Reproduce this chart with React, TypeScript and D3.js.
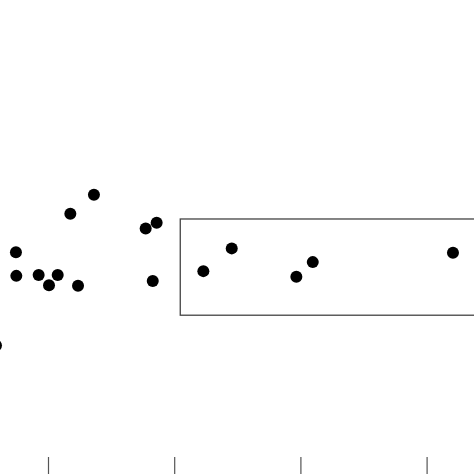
import React from "react";
import * as d3 from "d3";

const xValues = [1.36, 1.173, 1.77, 1.857, 0.742, 0.745, 0.922, 1.073, 1.004, 1.234, 1.826, 0.584, 2.227, 2.452, 2.964, 3.094, 4.205];
const yValues = [5.89, 5.49, 5.18, 5.3, 4.68, 4.18, 4.2, 4.2, 3.98, 3.97, 4.07, 2.71, 4.28, 4.76, 4.16, 4.47, 4.67];
const xTicks = [1, 2, 3, 4];
const boxX = [2.044, 4.6];
const boxY = [3.35, 5.38];

const W = 474;
const H = 474;

export default function App() {
  const x = d3.scaleLinear().domain([1, 4]).range([48.5, 427.1]);
  const y = d3.scaleLinear().domain([0, 10]).range([474, 0]);
  return (
    <div style={{ position: "fixed", left: 0, top: 0 }}>
      <svg width={W} height={H} style={{ display: "block", background: "#fff" }}>
        <rect
          x={x(boxX[0])}
          y={y(boxY[1])}
          width={x(boxX[1]) - x(boxX[0])}
          height={y(boxY[0]) - y(boxY[1])}
          fill="none"
          stroke="#444"
          strokeWidth={1.3}
        />
        {xValues.map((v, i) => (
          <circle key={i} cx={x(v)} cy={y(yValues[i])} r={6} fill="#000" />
        ))}
        {xTicks.map((t) => (
          <line key={t} x1={x(t)} x2={x(t)} y1={457} y2={H} stroke="#555" strokeWidth={1.2} />
        ))}
      </svg>
    </div>
  );
}
